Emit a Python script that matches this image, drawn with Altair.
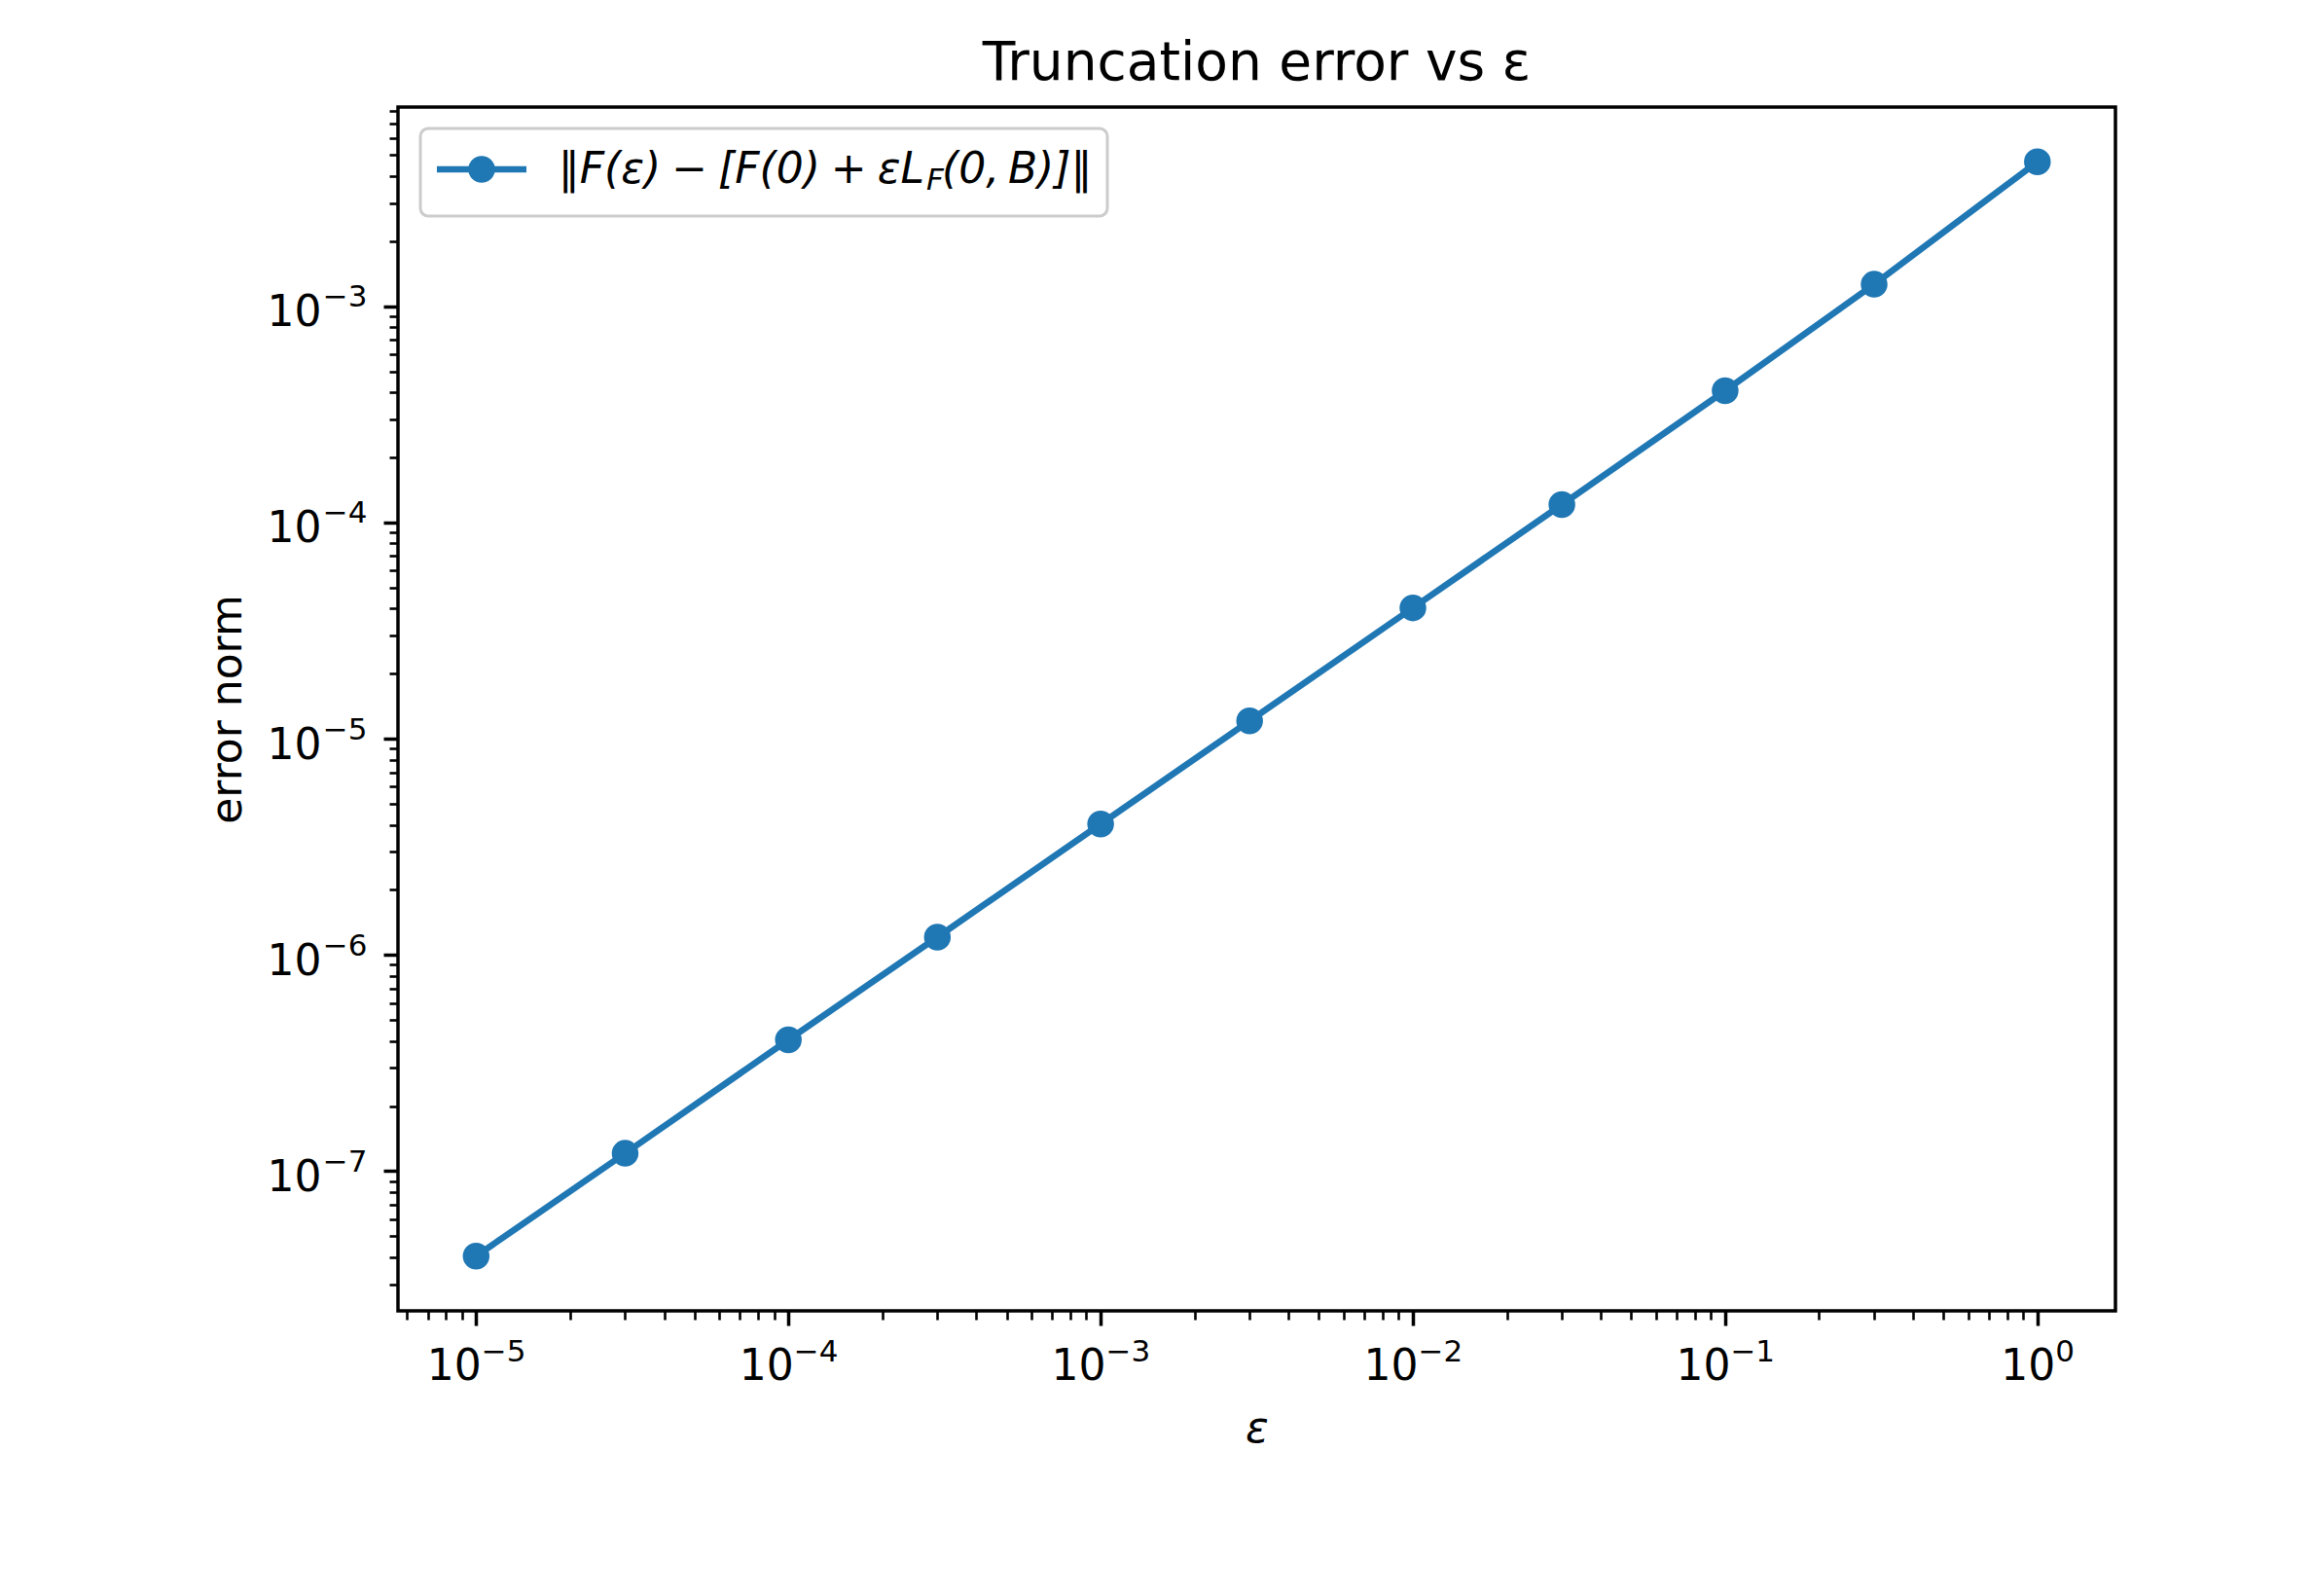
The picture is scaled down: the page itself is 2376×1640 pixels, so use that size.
import altair as alt
import pandas as pd

# ---- data ----
eps = [1e-5, 3e-5, 1e-4, 3e-4, 1e-3, 3e-3, 1e-2, 3e-2, 1e-1, 3e-1, 1.0]
err = [4.05e-8, 1.21e-7, 4.05e-7, 1.21e-6, 4.03e-6, 1.21e-5, 4.03e-5, 1.21e-4, 4.07e-4, 1.265e-3, 4.66e-3]

x_major = [1e-5, 1e-4, 1e-3, 1e-2, 1e-1, 1.0]
y_major = [1e-7, 1e-6, 1e-5, 1e-4, 1e-3]
x_domain = [5.62e-6, 1.778]
y_domain = [2.26e-8, 8.35e-3]

x_minor = [m * 10.0 ** k for k in range(-6, 1) for m in range(2, 10)
           if x_domain[0] <= m * 10.0 ** k <= x_domain[1]]
y_minor = [m * 10.0 ** k for k in range(-9, -1) for m in range(2, 10)
           if y_domain[0] <= m * 10.0 ** k <= y_domain[1]]

title_text = "Truncation error vs ε"
x_title = "ε"
y_title = "error norm"
legend_main = "‖F(ε)\u2005−\u2005[F(0)\u2005+\u2005εL"
legend_sub = "F"
legend_tail = "(0,\u2009B)]‖"

df = pd.DataFrame({"eps": eps, "err": err})
one = pd.DataFrame({"k": [0]})

BLUE = "#1f77b4"
FONT = "DejaVu Sans"
E = "round(log(datum.value)/LN10)"
base_expr = "'10'"
exp_expr = f"({E} < 0 ? '−' : '') + abs({E})"

xs = alt.Scale(type="log", domain=x_domain, nice=False, zero=False)
ys = alt.Scale(type="log", domain=y_domain, nice=False, zero=False)

common = dict(domain=False, grid=False, tickColor="black", labelColor="black",
              labelFont=FONT, labelFlush=False, labelOverlap=False, labelBound=False)
x_shift = {"condition": {"test": "datum.value == 1", "value": 18}, "value": 5}

# major ticks + "10" part of labels + titles
x_base_axis = alt.Axis(values=x_major, labelExpr=base_expr, tickSize=15, tickWidth=3.5,
                       labelFontSize=44, labelAlign="right", labelBaseline="alphabetic",
                       labelPadding=55, labelOffset=x_shift,
                       title=x_title, titleFont=FONT, titleFontSize=44, titleFontWeight="normal",
                       titleFontStyle="italic", titleColor="black", titlePadding=20,
                       orient="bottom", **common)
y_base_axis = alt.Axis(values=y_major, labelExpr=base_expr, tickSize=15, tickWidth=3.5,
                       labelFontSize=44, labelAlign="right", labelBaseline="alphabetic",
                       labelPadding=64, labelOffset=20,
                       title=y_title, titleFont=FONT, titleFontSize=44, titleFontWeight="normal",
                       titleColor="black", titlePadding=18,
                       orient="left", **common)
# exponent part of labels (no visible ticks)
x_exp_axis = alt.Axis(values=x_major, labelExpr=exp_expr, tickSize=15, tickOpacity=0,
                      labelFontSize=31, labelAlign="left", labelBaseline="alphabetic",
                      labelPadding=36, labelOffset=x_shift, title=None,
                      orient="bottom", **common)
y_exp_axis = alt.Axis(values=y_major, labelExpr=exp_expr, tickSize=15, tickOpacity=0,
                      labelFontSize=31, labelAlign="right", labelBaseline="alphabetic",
                      labelPadding=17, labelOffset=0, title=None,
                      orient="left", **common)
# minor ticks
x_minor_axis = alt.Axis(values=x_minor, labels=False, tickSize=9, tickWidth=2.6, title=None,
                        orient="bottom", domain=False, grid=False, tickColor="black")
y_minor_axis = alt.Axis(values=y_minor, labels=False, tickSize=9, tickWidth=2.6, title=None,
                        orient="left", domain=False, grid=False, tickColor="black")

line = alt.Chart(df).mark_line(color=BLUE, strokeWidth=6.6).encode(
    x=alt.X("eps:Q", scale=xs, axis=x_base_axis),
    y=alt.Y("err:Q", scale=ys, axis=y_base_axis),
)
points = alt.Chart(df).mark_point(filled=True, size=755, opacity=1, color=BLUE).encode(
    x=alt.X("eps:Q", scale=xs, axis=x_minor_axis),
    y=alt.Y("err:Q", scale=ys, axis=y_minor_axis),
)
exp_layer = alt.Chart(df).mark_point(opacity=0).encode(
    x=alt.X("eps:Q", scale=xs, axis=x_exp_axis),
    y=alt.Y("err:Q", scale=ys, axis=y_exp_axis),
)

leg_box = alt.Chart(one).mark_rect(fill="white", fillOpacity=0.8, stroke="#cccccc",
                                   strokeWidth=3, cornerRadius=8).encode(
    x=alt.value(23), x2=alt.value(729), y=alt.value(22), y2=alt.value(112))
leg_line = alt.Chart(one).mark_rule(color=BLUE, strokeWidth=6.6).encode(
    x=alt.value(40), x2=alt.value(132), y=alt.value(64))
leg_dot = alt.Chart(one).mark_point(filled=True, size=755, opacity=1, color=BLUE).encode(
    x=alt.value(86), y=alt.value(64))
txt = dict(baseline="alphabetic", font=FONT, fontStyle="italic", color="black")
leg_t1 = alt.Chart(one).mark_text(fontSize=44, align="right", **txt).encode(
    x=alt.value(541), y=alt.value(78), text=alt.value(legend_main))
leg_t2 = alt.Chart(one).mark_text(fontSize=31, align="left", **txt).encode(
    x=alt.value(543), y=alt.value(85), text=alt.value(legend_sub))
leg_t3 = alt.Chart(one).mark_text(fontSize=44, align="left", **txt).encode(
    x=alt.value(559), y=alt.value(78), text=alt.value(legend_tail))

chart = alt.layer(line, points, exp_layer, leg_box, leg_line, leg_dot,
                  leg_t1, leg_t2, leg_t3).resolve_axis(
    x="independent", y="independent"
).properties(
    width=1765, height=1237,
    title=alt.TitleParams(title_text, font=FONT, fontSize=55, fontWeight="normal", color="black",
                          anchor="middle", frame="group", offset=-27, baseline="alphabetic"),
    autosize=alt.AutoSizeParams(type="none"),
    padding={"left": 401, "top": 102, "right": 190, "bottom": 280},
    background="white",
).configure_view(stroke="black", strokeWidth=3.5)

chart.save("out.html", embed_options={"renderer": "svg", "actions": False})
